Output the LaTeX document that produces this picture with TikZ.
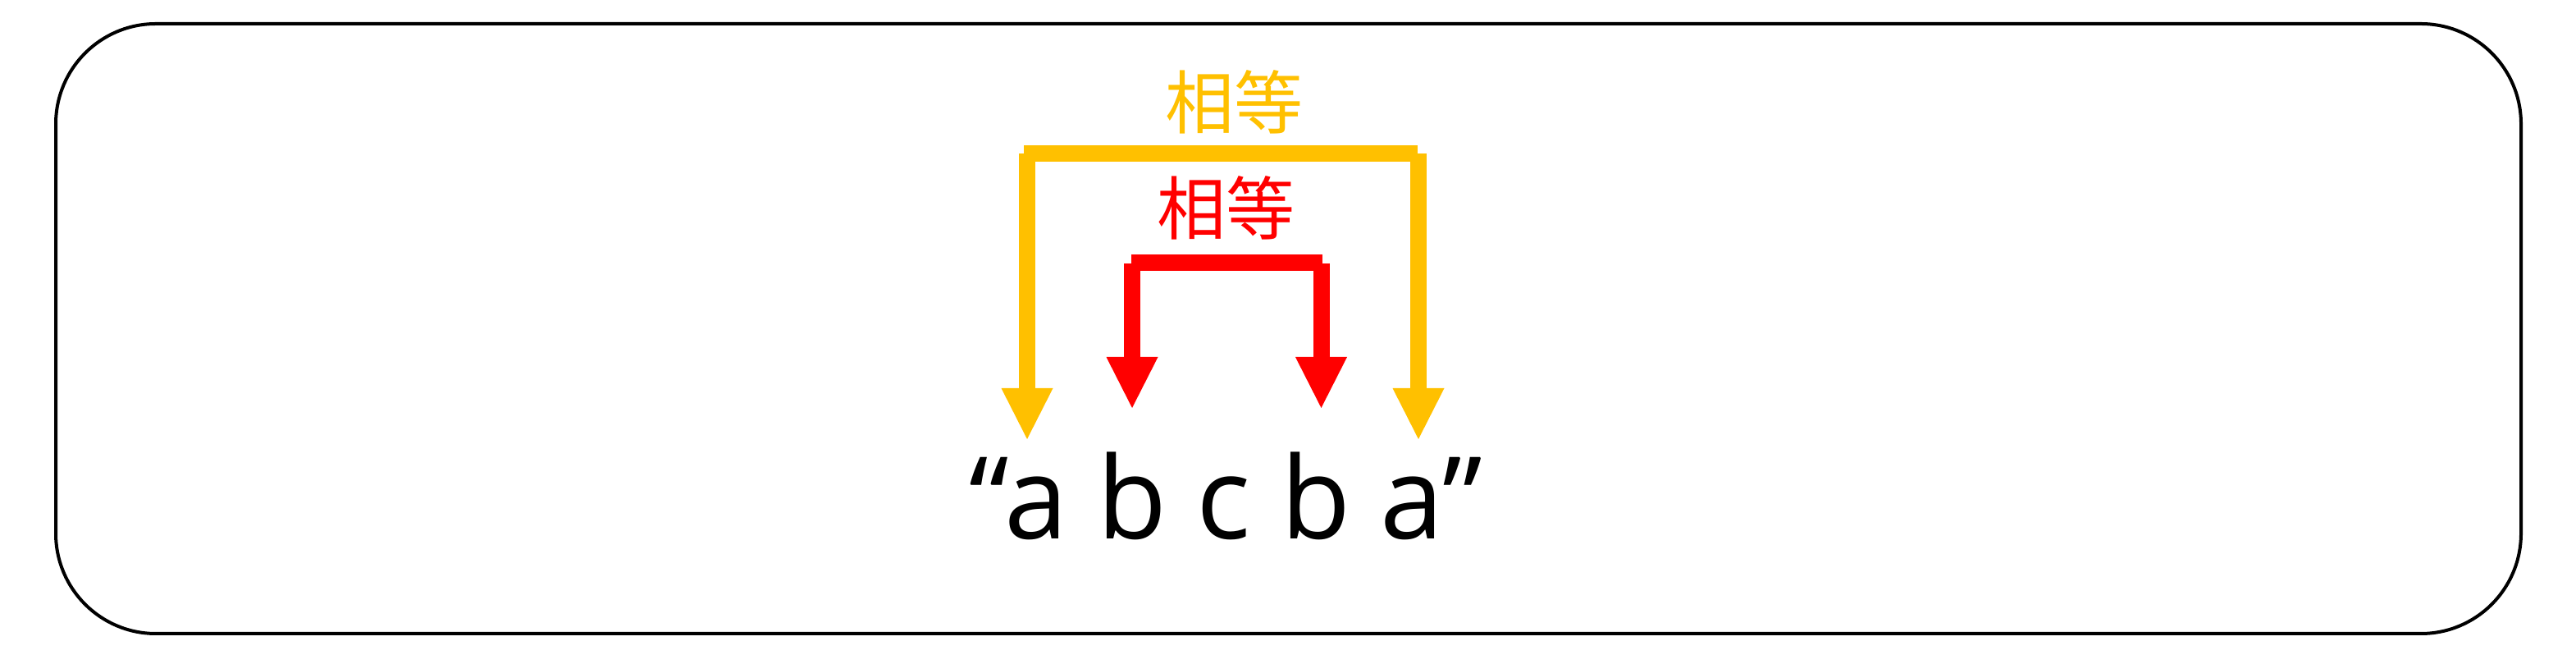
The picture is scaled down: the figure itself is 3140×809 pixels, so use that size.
\documentclass[tikz,border=0pt]{standalone}
\usepackage{fontspec}
\setmainfont{Open Sans}
\newfontfamily\cjk{Noto Sans CJK SC}
\usetikzlibrary{arrows.meta}
\definecolor{gold}{HTML}{FFC000}
\definecolor{pred}{HTML}{FF0000}
\begin{document}
\begin{tikzpicture}[x=0.25pt,y=-0.25pt,
  frame/.style={draw=black,line width=1pt,rounded corners=30.5pt},
  bar/.style={line width=5pt},
  arr/.style={line width=5pt,-{Triangle[width=15.75pt,length=15.5pt,line width=0pt]}},
  lbl/.style={font=\cjk\fontsize{21pt}{21pt}\selectfont,inner sep=0pt,anchor=base},
  word/.style={font=\fontsize{34.75pt}{34.75pt}\selectfont,inner sep=0pt,anchor=base}]
\useasboundingbox (0,0) rectangle (3140,809);
\draw[frame] (68,29) rectangle (3073,772);
% text
\node[word] (txt) at (1494,657) {“a b c b a”};
\node[lbl,text=gold] (lab1) at (1504,157) {相等};
\node[lbl,text=pred] (lab2) at (1494,286) {相等};
% yellow bracket
\coordinate (yh1) at (1248,187);
\coordinate (yh2) at (1728,187);
\coordinate (yl) at (1252,187);
\coordinate (yr) at (1729,187);
\coordinate (ylt) at (1252,535);
\coordinate (yrt) at (1729,535);
\draw[gold,bar] (yh1) -- (yh2);
\draw[gold,arr] (yl) -- (ylt);
\draw[gold,arr] (yr) -- (yrt);
% red bracket
\coordinate (rh1) at (1379,320.5);
\coordinate (rh2) at (1612,320.5);
\coordinate (rl) at (1380,321);
\coordinate (rr) at (1610.5,321);
\coordinate (rlt) at (1380,497);
\coordinate (rrt) at (1610.5,497);
\draw[pred,bar] (rh1) -- (rh2);
\draw[pred,arr] (rl) -- (rlt);
\draw[pred,arr] (rr) -- (rrt);
\end{tikzpicture}
\end{document}
